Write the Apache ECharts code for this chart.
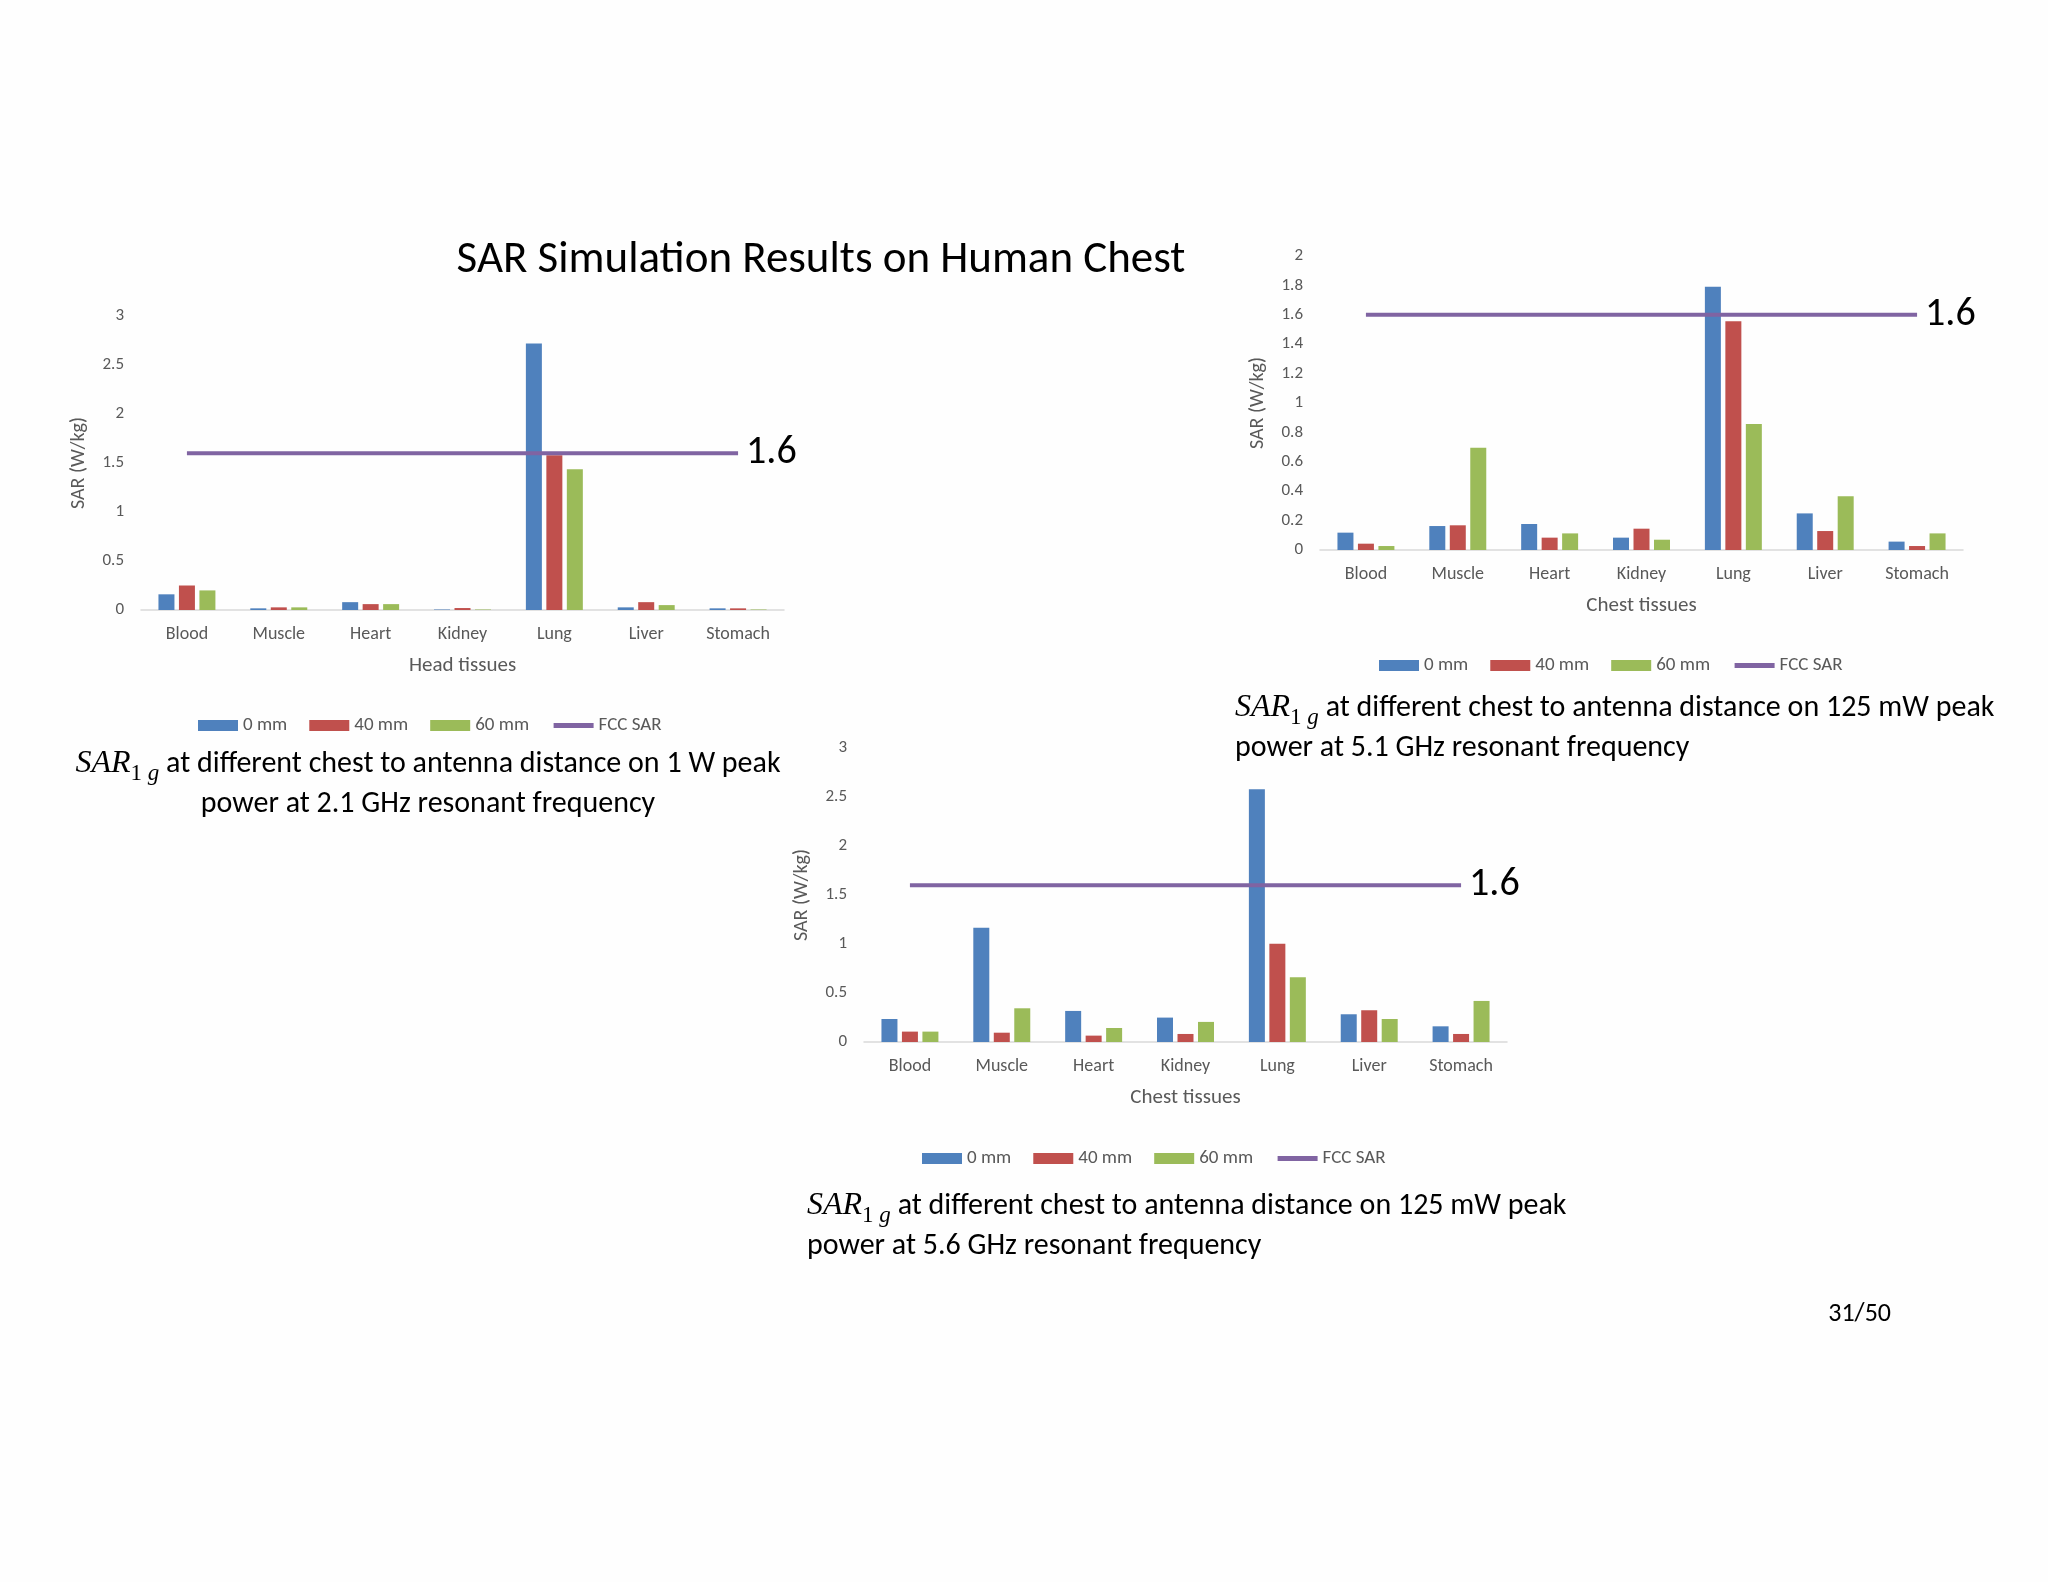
<!DOCTYPE html>
<html>
<head>
<meta charset="utf-8">
<script src="https://cdn.jsdelivr.net/npm/echarts@6/dist/echarts.min.js"></script>
<style>
  html, body { margin: 0; padding: 0; background: #fefefe; }
  #main { width: 2048px; height: 1582px; }
</style>
</head>
<body>
<div id="main"></div>
<script>
// tissues on the x axis (same for all three charts)
const tissues = ['Blood', 'Muscle', 'Heart', 'Kidney', 'Lung', 'Liver', 'Stomach']
const fccLimit = [1.6, 1.6, 1.6, 1.6, 1.6, 1.6, 1.6]

// 2.1 GHz, 1 W peak (head tissues)
const head21_0mm = [0.16, 0.017, 0.08, 0.005, 2.72, 0.027, 0.017]
const head21_40mm = [0.25, 0.027, 0.06, 0.02, 1.58, 0.08, 0.017]
const head21_60mm = [0.20, 0.027, 0.06, 0.005, 1.435, 0.05, 0.005]

// 5.1 GHz, 125 mW peak
const chest51_0mm = [0.118, 0.163, 0.177, 0.084, 1.79, 0.249, 0.057]
const chest51_40mm = [0.043, 0.168, 0.084, 0.145, 1.556, 0.129, 0.027]
const chest51_60mm = [0.027, 0.696, 0.113, 0.07, 0.857, 0.365, 0.113]

// 5.6 GHz, 125 mW peak
const chest56_0mm = [0.235, 1.166, 0.317, 0.249, 2.58, 0.283, 0.16]
const chest56_40mm = [0.106, 0.095, 0.065, 0.082, 1.002, 0.324, 0.082]
const chest56_60mm = [0.106, 0.344, 0.143, 0.205, 0.661, 0.235, 0.419]

const font = 'Carlito, Lato, "Open Sans", sans-serif'
const gray = '#595959'
const colors = ['#4F81BD', '#C0504D', '#9BBB59', '#8064A2']

// one block per chart: grid box, y range, axis name, legend position
const charts = [
  { left: 141, top: 316, max: 3, interval: 0.5, xName: 'Head tissues', legendLeft: 193, legendTop: 711,
    data: [head21_0mm, head21_40mm, head21_60mm] },
  { left: 1320, top: 256, max: 2, interval: 0.2, xName: 'Chest tissues', legendLeft: 1374, legendTop: 651,
    data: [chest51_0mm, chest51_40mm, chest51_60mm] },
  { left: 864, top: 748, max: 3, interval: 0.5, xName: 'Chest tissues', legendLeft: 917, legendTop: 1144,
    data: [chest56_0mm, chest56_40mm, chest56_60mm] }
]

let grid = [], xAxis = [], yAxis = [], legend = [], series = []

charts.forEach((c, i) => {
  grid.push({ left: c.left, top: c.top, width: 643, height: 294 })

  xAxis.push({
    type: 'category', gridIndex: i, data: tissues,
    name: c.xName, nameLocation: 'middle', nameGap: 45,
    nameTextStyle: { fontFamily: font, fontSize: 21, color: gray },
    axisLine: { lineStyle: { color: '#d9d9d9', width: 1.5 } },
    axisTick: { show: false },
    axisLabel: { fontFamily: font, fontSize: 18, color: gray, margin: 15 }
  })

  yAxis.push({
    type: 'value', gridIndex: i, min: 0, max: c.max, interval: c.interval,
    name: 'SAR (W/kg)', nameLocation: 'middle', nameGap: 52,
    nameTextStyle: { fontFamily: font, fontSize: 20, color: gray },
    splitLine: { show: false },
    axisLine: { show: false },
    axisTick: { show: false },
    axisLabel: { fontFamily: font, fontSize: 17, color: gray, margin: 17 }
  })

  legend.push({
    left: c.legendLeft, top: c.legendTop,
    itemWidth: 40, itemHeight: 11, itemGap: 22,
    textStyle: { fontFamily: font, fontSize: 19, color: gray },
    data: [
      { name: '0 mm', icon: 'rect' },
      { name: '40 mm', icon: 'rect' },
      { name: '60 mm', icon: 'rect' },
      { name: 'FCC SAR', itemStyle: { opacity: 0 }, lineStyle: { width: 5 } }
    ]
  })

  const names = ['0 mm', '40 mm', '60 mm']
  c.data.forEach((vals, k) => {
    series.push({
      type: 'bar', name: names[k], xAxisIndex: i, yAxisIndex: i,
      data: vals, barWidth: 16, barGap: '28%',
      itemStyle: { color: colors[k] }
    })
  })

  series.push({
    type: 'line', name: 'FCC SAR', xAxisIndex: i, yAxisIndex: i,
    data: fccLimit, symbol: 'none', z: 5,
    lineStyle: { color: colors[3], width: 4 },
    itemStyle: { color: colors[3] },
    endLabel: { show: true, formatter: '1.6', fontFamily: font, fontSize: 40, color: '#000', distance: 8 }
  })
})

// caption text: SAR with subscript 1 g
const rich = {
  sar: { fontFamily: '"Liberation Serif", serif', fontStyle: 'italic', fontSize: 32, lineHeight: 42, color: '#000' },
  sub: { fontFamily: '"Liberation Serif", serif', fontSize: 23, lineHeight: 23, verticalAlign: 'bottom', color: '#000' },
  subg: { fontFamily: '"Liberation Serif", serif', fontStyle: 'italic', fontSize: 23, lineHeight: 23, verticalAlign: 'bottom', color: '#000' },
  t: { fontFamily: font, fontSize: 30, lineHeight: 42, color: '#000' }
}

function caption(x, y, align, line1, line2) {
  return [
    { type: 'text', x: x, y: y, style: {
      text: '{sar|SAR}{sub|1 }{subg|g}{t| ' + line1 + '}', rich: rich,
      align: align, verticalAlign: 'middle' } },
    { type: 'text', x: x, y: y + 40, style: {
      text: line2, font: '30px ' + font, fill: '#000',
      align: align, verticalAlign: 'middle' } }
  ]
}

const graphic = [
  { type: 'text', x: 821, y: 261, style: {
    text: 'SAR Simulation Results on Human Chest', font: '300 45px ' + font, fill: '#000',
    align: 'center', verticalAlign: 'middle' } },
  ...caption(428, 764, 'center', 'at different chest to antenna distance on 1 W peak', 'power at 2.1 GHz resonant frequency'),
  ...caption(1235, 708, 'left', 'at different chest to antenna distance on 125 mW peak', 'power at 5.1 GHz resonant frequency'),
  ...caption(807, 1206, 'left', 'at different chest to antenna distance on 125 mW peak', 'power at 5.6 GHz resonant frequency'),
  { type: 'text', x: 1891, y: 1314, style: {
    text: '31/50', font: '26px ' + font, fill: '#000', align: 'right', verticalAlign: 'middle' } }
]

const chart = echarts.init(document.getElementById('main'))
chart.setOption({
  backgroundColor: '#fefefe',
  animation: false,
  grid: grid, xAxis: xAxis, yAxis: yAxis, legend: legend,
  series: series, graphic: graphic
})
</script>
</body>
</html>
